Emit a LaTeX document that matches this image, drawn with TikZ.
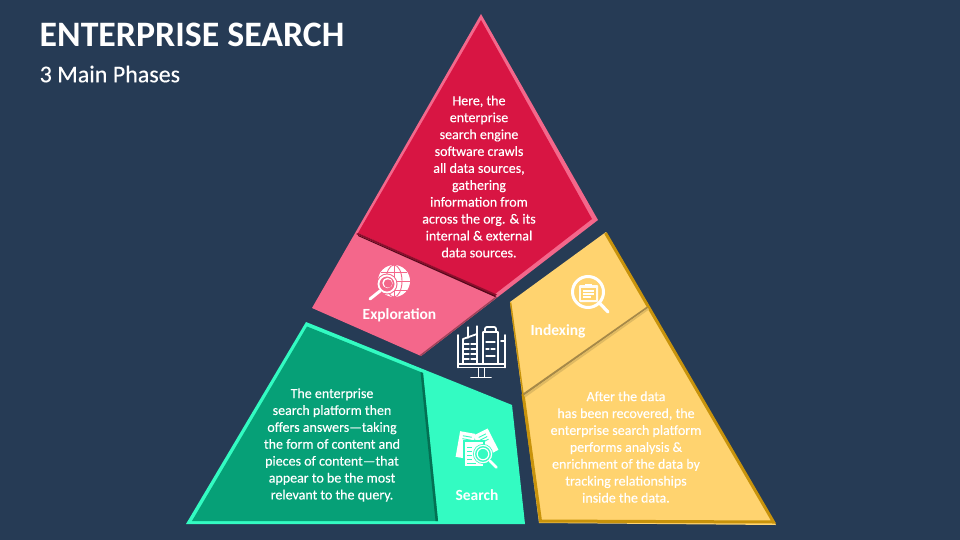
\documentclass[tikz,border=0pt]{standalone}
\usepackage{fontspec}
\setmainfont{Carlito}
\newfontfamily\bodyf[FakeBold=0.25]{Carlito}
\definecolor{bgc}{HTML}{263B55}
\definecolor{redc}{HTML}{D81543}
\definecolor{pinkc}{HTML}{F4678B}
\definecolor{greend}{HTML}{06A077}
\definecolor{greenl}{HTML}{33FBC2}
\definecolor{yell}{HTML}{FFD36F}
\definecolor{yeld}{HTML}{C8930B}
\tikzset{
  body/.style={text=white,align=center,font=\bodyf\fontsize{14}{16.9}\selectfont,inner sep=0pt},
  lab/.style={text=white,font=\fontsize{15.5}{18}\selectfont\bfseries,inner sep=0pt},
  ic/.style={draw=white,line width=1.8pt,line cap=round,line join=round},
  ict/.style={draw=white,line width=1.3pt,line cap=round}
}
\begin{document}
\begin{tikzpicture}[x=1pt,y=-1pt]
\useasboundingbox (0,0) rectangle (960,540);
\fill[bgc] (0,0) rectangle (960,540);
% top piece
\fill[pinkc] (481,14)--(598,220)--(421,356)--(312,308)--cycle;
\fill[black!35!pinkc] (421,356)--(497,297.5)--(496,296.5)--(419.5,355.3)--cycle;
\fill[redc] (481,20)--(592,219)--(495,294)--(358,233)--cycle;
\fill[black!35!redc] (356,234)--(495,296)--(497,294.5)--(358,233)--cycle;
\fill[black!60!redc] (358,236)--(495,297)--(496,296)--(358,235)--cycle;
% green piece
\fill[greenl] (306,322)--(512,405)--(525,524)--(186,524)--cycle;
\fill[greend] (307,326.5)--(423,373)--(438,521)--(192,521)--cycle;
\fill[black!30!greend] (423,373)--(438,521)--(435.5,521)--(420.5,372)--cycle;
% yellow piece
\fill[yell] (606,232)--(776,525)--(539,523)--(510,302)--cycle;
\draw[yeld,line width=1.4pt] (510.6,302.5)--(523,394);
\draw[yeld,line width=3pt,line join=miter] (605.5,233)--(773.5,522)--(540.5,521)--(523,394);
\fill[black!35!yell] (523,393.5)--(647,306.5)--(648,308)--(524,395.5)--cycle;
\fill[black!12!yell] (524,395.5)--(648,308)--(649,309.5)--(525,397.5)--cycle;
% icon exploration
\fill[white] (394,281) circle (16);
\draw[pinkc,line width=.9pt] (394,281) ellipse (8 and 16);
\draw[pinkc,line width=.9pt] (394,265)--(394,297) (378,281)--(410,281) (381,272)--(407,272) (381,290)--(407,290);
\fill[pinkc] (387,284) circle (10.5);
\draw[white,line width=1.8pt,fill=pinkc] (387,284) circle (8.5);
\fill[white] (387.5,283) circle (5.2);
\fill[pinkc] (388,283.5) circle (4.2);
\draw[white,line width=3pt,line cap=round] (380,291)--(370,299);
% icon city
\draw[ic] (458,335)--(458,364) (458,364)--(505,364)--(505,335) (458,367.5)--(505,367.5);
\draw[ic] (458,364)--(458,367.5) (505,364)--(505,367.5) (501,341)--(505,341);
\draw[ic] (478.5,368)--(478.5,377) (484.5,368)--(484.5,377) (471,377.5)--(491,377.5);
\draw[ic] (463,364)--(463,339)--(477,334)--(477,364);
\draw[ict] (468,338)--(468,327) (477,334)--(477,326);
\draw[ict] (463,344)--(469,344) (463,349)--(469,349) (463,354)--(469,354) (463,359)--(469,359) (471,344)--(477,344) (471,349)--(477,349) (471,354)--(477,354) (471,359)--(477,359);
\draw[ic] (483,364)--(483,332) (498,364)--(498,332) (483,332)--(498,332);
\draw[ic,rounded corners=2pt] (485,332)--(485,327)--(496,327)--(496,332);
\draw[ict] (486,342)--(495,342) (486,349)--(489,349) (491,349)--(495,349) (486,356)--(495,356);
% icon indexing
\draw[white,line width=3pt] (588,292) circle (15.5);
\draw[white,line width=3.2pt,line cap=round] (599.5,303)--(608,312);
\fill[white,opacity=.92,rounded corners=1pt] (579,285)--(598,285)--(598,302)--(579,302)--cycle;
\fill[yell] (581,288)--(596,288)--(596,300)--(581,300)--cycle;
\fill[white] (585,284) rectangle (592,286);
\draw[white,line width=1.1pt] (583,291)--(594,291) (583,294)--(594,294) (583,297)--(591,297);
% icon search
\begin{scope}[shift={(464,441)},rotate=-10]
\fill[white] (-5.5,-9) rectangle (10,17);
\draw[greenl,line width=.9pt] (-2,-5)--(7,-5) (-2,-2)--(7,-2);
\end{scope}
\begin{scope}[shift={(485,441)},rotate=27]
\fill[white] (-8,-10) rectangle (8,14);
\draw[greenl,line width=.9pt] (-4,-6)--(4,-6) (-4,-3)--(4,-3) (-4,0)--(4,0);
\end{scope}
\fill[greenl] (463,440) rectangle (485,468);
\fill[white] (465,442) rectangle (483,466);
\draw[greenl,line width=.9pt] (467,447)--(472,447) (467,451)--(472,451) (467,455)--(472,455) (467,459)--(472,459) (467,463)--(476,463);
\fill[greenl] (483,454) circle (10);
\draw[white,line width=1.2pt] (483,454) circle (8.6);
\draw[white,line width=1.2pt] (483,454) circle (5.8);
\draw[white,line width=2.6pt,line cap=round] (490,461)--(496.5,467.5);
% texts
\node[inner sep=0pt,text=white,anchor=west,font=\fontsize{35.8}{40}\selectfont\bfseries] (title) at (39.5,35) {ENTERPRISE SEARCH};
\node[inner sep=0pt,text=white,anchor=west,font=\bodyf\fontsize{24}{28}\selectfont] (sub) at (39.5,74) {3 Main Phases};
\node[body] (t1) at (479,176.5) {Here, the\\enterprise\\search engine\\software crawls\\all data sources,\\gathering\\information from\\across the org. \& its\\internal \& external\\data sources.};
\node[body] (t2) at (332,445) {The enterprise\\search platform then\\offers answers—taking\\the form of content and\\pieces of content—that\\appear to be the most\\relevant to the query.};
\node[body] (t3) at (626,447) {After the data\\has been recovered, the\\enterprise search platform\\performs analysis \&\\enrichment of the data by\\tracking relationships\\inside the data.};
\node[lab] (l1) at (399.5,315) {Exploration};
\node[lab] (l2) at (558,331) {Indexing};
\node[lab] (l3) at (477,495) {Search};
\end{tikzpicture}
\end{document}
